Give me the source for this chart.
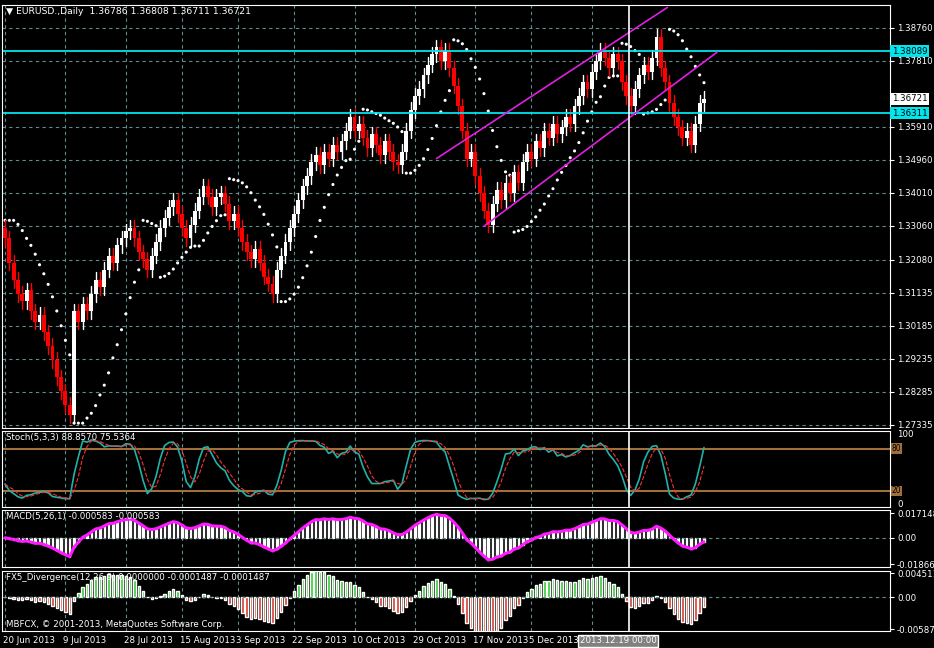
import numpy as np, pandas as pd, matplotlib
matplotlib.use("Agg")
import matplotlib.pyplot as plt, seaborn as sns
from matplotlib.patches import Rectangle

sns.set_style("dark")
plt.rcParams['font.family'] = ['DejaVu Sans']
FS = 6.2

closes = [1.327,1.320,1.315,1.311,1.309,1.312,1.306,1.303,1.305,1.300,1.296,1.292,1.287,1.283,1.279,1.276,
1.306,1.303,1.308,1.306,1.311,1.315,1.313,1.318,1.322,1.320,1.325,1.327,1.329,1.330,1.327,1.323,1.321,1.318,1.322,
1.326,1.330,1.333,1.336,1.338,1.334,1.330,1.327,1.331,1.335,1.339,1.342,1.339,1.336,1.339,1.340,1.337,1.332,
1.334,1.330,1.326,1.323,1.321,1.324,1.320,1.316,1.314,1.311,1.318,1.322,1.326,1.330,1.334,1.338,1.342,1.345,1.349,1.351,
1.348,1.352,1.350,1.354,1.352,1.355,1.358,1.362,1.358,1.360,1.356,1.353,1.357,1.354,1.351,1.355,1.352,1.349,1.348,1.352,
1.358,1.364,1.368,1.370,1.374,1.377,1.380,1.382,1.378,1.381,1.376,1.371,1.365,1.358,1.350,1.352,1.345,1.340,1.335,1.331,
1.337,1.341,1.338,1.343,1.340,1.346,1.343,1.349,1.352,1.350,1.355,1.353,1.358,1.356,1.360,1.357,1.359,1.362,1.360,1.365,
1.368,1.372,1.370,1.375,1.378,1.381,1.379,1.376,1.380,1.378,1.372,1.368,1.365,1.370,1.374,1.377,1.375,1.379,1.385,1.376,
1.372,1.366,1.362,1.359,1.356,1.358,1.354,1.360,1.366,1.36721]
first_open = 1.330
wick = 0.0022
price_ticks = [1.38760,1.37810,1.35910,1.34960,1.34010,1.33060,1.32080,1.31135,1.30185,1.29235,1.28285,1.27335]
levels = [1.38089, 1.36311]
last_price = 1.36721
date_labels = ["20 Jun 2013","9 Jul 2013","28 Jul 2013","15 Aug 2013","3 Sep 2013","22 Sep 2013",
               "10 Oct 2013","29 Oct 2013","17 Nov 2013","5 Dec 2013","24 Dec 2013"]
date_pos = [0, 14, 28, 41, 54, 67, 81, 95, 109, 122, 136]
cursor_bar = 144.7
cursor_label = "2013.12.19 00:00"
channel = [((100.0, 1.3500), (153.5, 1.3935)), ((111.0, 1.3305), (165.0, 1.3806))]

c = pd.Series(closes)
o = pd.Series([first_open] + closes[:-1])
h = np.maximum(o, c) + wick
l = np.minimum(o, c) - wick
n = len(c); x = np.arange(n)

def psar(h, l, step=0.02, mx=0.2):
    h = np.asarray(h); l = np.asarray(l); s = np.zeros(len(h))
    up = False; af = step; ep = l[0]; s[0] = h[0]
    for i in range(1, len(h)):
        s[i] = s[i-1] + af*(ep - s[i-1])
        if up:
            s[i] = min(s[i], l[i-1], l[max(i-2,0)])
            if l[i] < s[i]:
                up = False; s[i] = ep; ep = l[i]; af = step
            elif h[i] > ep: ep = h[i]; af = min(af+step, mx)
        else:
            s[i] = max(s[i], h[i-1], h[max(i-2,0)])
            if h[i] > s[i]:
                up = True; s[i] = ep; ep = h[i]; af = step
            elif l[i] < ep: ep = l[i]; af = min(af+step, mx)
    return s
sar = psar(h, l)

hh = pd.Series(h).rolling(5, 1).max(); ll = pd.Series(l).rolling(5, 1).min()
k = ((c - ll).rolling(3,1).sum() / (hh - ll).rolling(3,1).sum() * 100)
d = k.rolling(3,1).mean()
macd = c.ewm(span=5).mean() - c.ewm(span=26).mean()
fx5 = (c.ewm(span=12).mean() - c.ewm(span=26).mean())
fx5 = (fx5 - fx5.ewm(span=9).mean()) * 1.6

W, H = 934, 648
fig = plt.figure(figsize=(W/100, H/100), dpi=100, facecolor='black')
gridc = '#5f8c8c'
def ax_at(top, bot):
    a = fig.add_axes([2/W, 1-bot/H, 888/W, (bot-top)/H], facecolor='black')
    for sp in a.spines.values(): sp.set_color('white')
    a.tick_params(colors='white', labelsize=FS, length=3, direction='out', pad=2)
    a.yaxis.tick_right()
    a.set_xlim(-0.7, 885/4.3 - 0.7)
    a.set_xticks(date_pos); a.set_xticklabels([])
    a.grid(True, color=gridc, ls=(0,(3,3)), lw=0.8)
    return a
ax = ax_at(5, 428)
ax.set_ylim(1.27240, 1.39422)
ax.set_yticks(price_ticks); ax.set_yticklabels([f"{v:.5f}" for v in price_ticks])
for i in range(n):
    up = c[i] >= o[i]; col = 'white' if up else '#ff0000'
    ax.plot([i, i], [l[i], h[i]], color=col, lw=1)
    lo, hi = min(o[i], c[i]), max(o[i], c[i])
    ax.add_patch(Rectangle((i-0.45, lo), 0.9, max(hi-lo, 0.0004), color=col, lw=0))
sns.scatterplot(x=x, y=sar, ax=ax, color='white', s=5, edgecolor='none', legend=False)
for lv in levels:
    ax.axhline(lv, color='#00e5ee', lw=1.3)
    ax.text(1.002, lv, f"{lv:.5f}", transform=ax.get_yaxis_transform(), fontsize=FS, va='center',
            color='black', bbox=dict(fc='#00e5ee', ec='none', pad=1))
ax.text(1.002, last_price, f"{last_price:.5f}", transform=ax.get_yaxis_transform(), fontsize=FS, va='center',
        color='black', bbox=dict(fc='white', ec='none', pad=1))
for (a0, a1) in channel:
    ax.plot([a0[0], a1[0]], [a0[1], a1[1]], color='#e020e0', lw=1.2)
ax.axvline(cursor_bar, color='white', lw=1.2)
ax.text(0.005, 0.995, "▼ EURUSD.,Daily  1.36786 1.36808 1.36711 1.36721", transform=ax.transAxes,
        color='white', fontsize=FS+0.5, va='top')

a2 = ax_at(431, 507)
a2.set_ylim(-3, 105); a2.set_yticks([]); a2.grid(axis='y', visible=False)
for lv in (20, 80):
    a2.axhline(lv, color='#a0703c', lw=1.5)
    a2.text(1.002, lv, str(lv), transform=a2.get_yaxis_transform(), fontsize=5.5, va='center', color='black',
            bbox=dict(fc='#a0703c', ec='none', pad=0.5))
a2.text(1.008, 100, "100", transform=a2.get_yaxis_transform(), fontsize=FS, va='center', color='white')
a2.text(1.008, 0, "0", transform=a2.get_yaxis_transform(), fontsize=FS, va='center', color='white')
sns.lineplot(x=x, y=k.values, ax=a2, color='#20b2aa', lw=1.2)
sns.lineplot(x=x, y=d.values, ax=a2, color='#ff3030', lw=0.8, ls='--')
a2.axvline(cursor_bar, color='white', lw=1.2)
a2.text(0.005, 0.97, "Stoch(5,3,3) 88.8570 75.5364", transform=a2.transAxes, color='white', fontsize=FS, va='top')
a2.set_xlabel(''); a2.set_ylabel('')

a3 = ax_at(510, 567)
a3.set_ylim(-0.0205, 0.0195); a3.set_yticks([0.017148, 0, -0.018668])
a3.set_yticklabels(["0.017148", "0.00", "-0.018668"]); a3.grid(axis='y', visible=False)
a3.axhline(0, color=gridc, ls=(0,(3,3)), lw=0.8)
a3.bar(x, macd.values, width=0.35, color='white')
sns.lineplot(x=x, y=macd.values, ax=a3, color='#ff1aff', lw=2.2)
a3.axvline(cursor_bar, color='white', lw=1.2)
a3.text(0.005, 0.97, "MACD(5,26,1) -0.000583 -0.000583", transform=a3.transAxes, color='white', fontsize=FS, va='top')
a3.set_xlabel(''); a3.set_ylabel('')

a4 = ax_at(571, 631)
a4.set_ylim(-0.0062, 0.0049); a4.set_yticks([0.004511, 0, -0.005872])
a4.set_yticklabels(["0.004511", "0.00", "-0.005872"]); a4.grid(axis='y', visible=False)
a4.axhline(0, color=gridc, ls=(0,(3,3)), lw=0.8)
a4.bar(x, fx5.values, width=0.55, color=np.where(fx5.values >= 0, '#33cc33', '#d43a2a'))
a4.axvline(cursor_bar, color='white', lw=1.2)
a4.text(0.005, 0.97, "FX5_Divergence(12,26,9) 0.0000000 -0.0001487 -0.0001487", transform=a4.transAxes, color='white', fontsize=FS, va='top')
a4.text(0.005, 0.03, "MBFCX, © 2001-2013, MetaQuotes Software Corp.", transform=a4.transAxes, color='white', fontsize=FS, va='bottom')
for p, lab in zip(date_pos, date_labels):
    a4.text(p - 0.5, -0.09, lab, transform=a4.get_xaxis_transform(), color='white', fontsize=FS, va='top', ha='left')
a4.text(cursor_bar - 11.5, -0.09, cursor_label, transform=a4.get_xaxis_transform(), color='white', fontsize=FS,
        va='top', ha='left', zorder=10, bbox=dict(fc='#808080', ec='white', pad=1))
fig.savefig("out.png", dpi=100, facecolor='black')
